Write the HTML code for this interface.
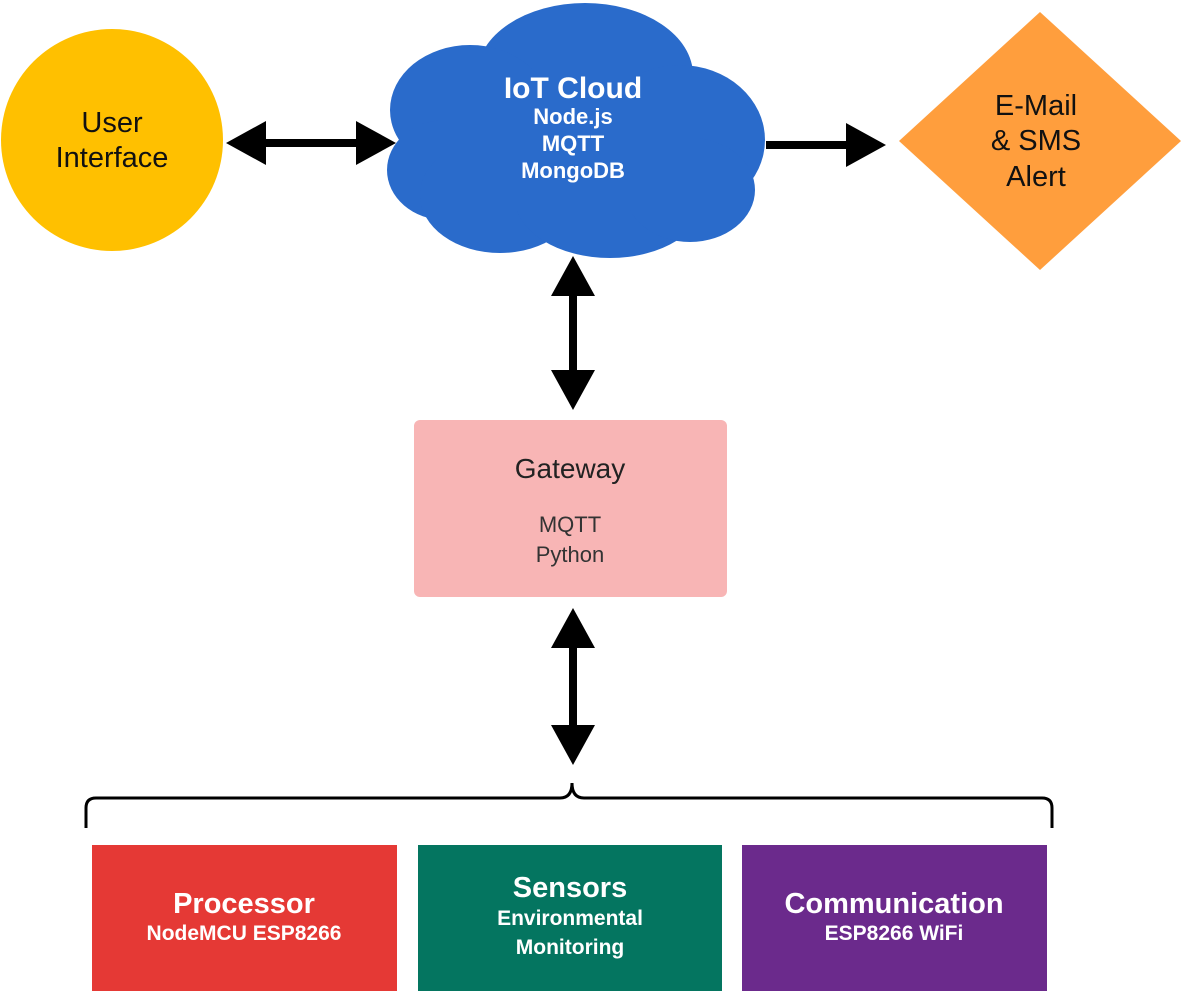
<!DOCTYPE html>
<html><head><meta charset="utf-8"><style>
html,body{margin:0;padding:0;background:#fff;}
svg{display:block;}
text{font-family:"Liberation Sans",Arial,sans-serif;}
</style></head><body>
<svg width="1181" height="991" viewBox="0 0 1181 991" xmlns="http://www.w3.org/2000/svg">
<rect width="1181" height="991" fill="#fff"/>
<circle cx="112" cy="140" r="111" fill="#FFC000"/>
<text x="112" y="132" font-size="29" text-anchor="middle" fill="#111">User</text>
<text x="112" y="167" font-size="29" text-anchor="middle" fill="#111">Interface</text>
<g fill="#2A6BCB">
<ellipse cx="585" cy="75" rx="108" ry="72"/>
<ellipse cx="470" cy="110" rx="80" ry="65"/>
<ellipse cx="680" cy="140" rx="85" ry="75"/>
<ellipse cx="445" cy="170" rx="58" ry="50"/>
<ellipse cx="500" cy="195" rx="80" ry="58"/>
<ellipse cx="610" cy="198" rx="95" ry="60"/>
<ellipse cx="690" cy="190" rx="65" ry="52"/>
<rect x="440" y="100" width="260" height="110"/>
</g>
<text x="573" y="98" font-size="30" font-weight="bold" text-anchor="middle" fill="#fff">IoT Cloud</text>
<text x="573" y="124" font-size="22" font-weight="bold" text-anchor="middle" fill="#fff">Node.js</text>
<text x="573" y="151" font-size="22" font-weight="bold" text-anchor="middle" fill="#fff">MQTT</text>
<text x="573" y="178" font-size="22" font-weight="bold" text-anchor="middle" fill="#fff">MongoDB</text>
<polygon points="1040,12 1181,141 1040,270 899,141" fill="#FF9E3D"/>
<text x="1036" y="115" font-size="29" text-anchor="middle" fill="#111">E-Mail</text>
<text x="1036" y="150" font-size="29" text-anchor="middle" fill="#111">&amp; SMS</text>
<text x="1036" y="186" font-size="29" text-anchor="middle" fill="#111">Alert</text>
<g fill="#000">
<polygon points="226,143 266,121 266,139 356,139 356,121 396,143 356,165 356,147 266,147 266,165"/>
<polygon points="766,141 846,141 846,123 886,145 846,167 846,149 766,149"/>
<polygon points="573,256 595,296 577,296 577,370 595,370 573,410 551,370 569,370 569,296 551,296"/>
<polygon points="573,608 595,648 577,648 577,725 595,725 573,765 551,725 569,725 569,648 551,648"/>
</g>
<rect x="414" y="420" width="313" height="177" rx="6" fill="#F8B5B5"/>
<text x="570" y="478" font-size="28" text-anchor="middle" fill="#222">Gateway</text>
<text x="570" y="532" font-size="22" text-anchor="middle" fill="#333">MQTT</text>
<text x="570" y="562" font-size="22" text-anchor="middle" fill="#333">Python</text>
<path d="M86,828 L86,808 Q86,798 96,798 L560,798 Q572,798 572,783 Q572,798 584,798 L1042,798 Q1052,798 1052,808 L1052,828" fill="none" stroke="#000" stroke-width="3"/>
<rect x="92" y="845" width="305" height="146" fill="#E53935"/>
<rect x="418" y="845" width="304" height="146" fill="#047560"/>
<rect x="742" y="845" width="305" height="146" fill="#6B2A8C"/>
<g fill="#fff" text-anchor="middle" font-weight="bold">
<text x="244" y="913" font-size="29">Processor</text>
<text x="244" y="940" font-size="21">NodeMCU ESP8266</text>
<text x="570" y="897" font-size="29">Sensors</text>
<text x="570" y="925" font-size="21">Environmental</text>
<text x="570" y="954" font-size="21">Monitoring</text>
<text x="894" y="913" font-size="29">Communication</text>
<text x="894" y="940" font-size="21">ESP8266 WiFi</text>
</g>
</svg>
</body></html>
